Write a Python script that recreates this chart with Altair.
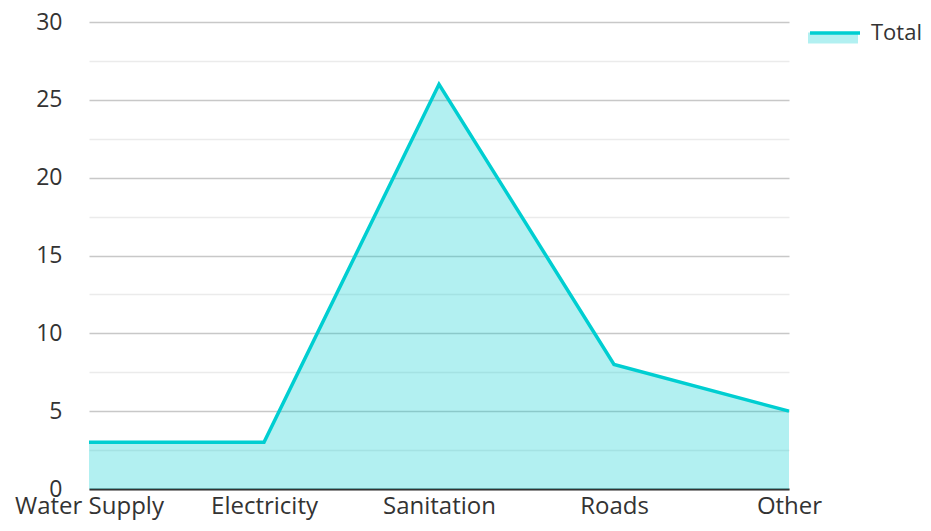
import altair as alt
import pandas as pd

categories = ["Water Supply", "Electricity", "Sanitation", "Roads", "Other"]
values = [3, 3, 26, 8, 5]
series_name = "Total"
y_ticks = [0, 2.5, 5, 7.5, 10, 12.5, 15, 17.5, 20, 22.5, 25, 27.5, 30]

LINE = "#00CED1"
FILL = "#00CED1"

df = pd.DataFrame({"category": categories, "value": values,
                   "series": [series_name] * len(categories),
                   "series_line": [series_name] * len(categories)})

x_enc = alt.X("category:N", sort=categories, title=None,
              scale=alt.Scale(type="point", padding=0),
              axis=alt.Axis(labelAngle=0, labelFontSize=24, labelColor="#333333",
                            labelPadding=5, ticks=False, domainColor="#333333",
                            domainWidth=2, grid=False, labelFont="Open Sans"))
y_enc = alt.Y("value:Q", title=None,
              scale=alt.Scale(domain=[0, 30], nice=False),
              axis=alt.Axis(values=y_ticks, labelFontSize=23, labelColor="#333333",
                            labelFont="Open Sans", labelPadding=27, ticks=False,
                            domain=False,
                            labelExpr="datum.value % 5 === 0 ? datum.label : ''",
                            gridColor={"condition": {"test": "datum.value % 5 === 0", "value": "#c8c8c8"},
                                       "value": "#ebebeb"},
                            gridWidth=1.5))

area = alt.Chart(df).mark_area(opacity=0.3).encode(
    x=x_enc, y=y_enc,
    fill=alt.Fill("series:N", scale=alt.Scale(range=[FILL]),
                  legend=alt.Legend(title=None, orient="none", legendX=719, legendY=-16,
                                    symbolType="M-1,0.06H1V0.5H-1Z", symbolSize=2500,
                                    symbolStrokeWidth=0, labelFontSize=22, labelOpacity=0,
                                    labelFont="Open Sans", labelOffset=9, padding=0)),
)

line = alt.Chart(df).mark_line(strokeWidth=3.5).encode(
    x=x_enc, y=y_enc,
    stroke=alt.Stroke("series_line:N", scale=alt.Scale(range=[LINE]),
                      legend=alt.Legend(title=None, orient="none", legendX=719, legendY=-16,
                                        symbolType="M-1,0H1", symbolSize=2500,
                                        symbolStrokeWidth=3.5, labelFontSize=22,
                                        labelColor="#333333", labelFont="Open Sans",
                                        labelOffset=9, padding=0, labelLimit=200)),
)

chart = alt.layer(area, line).properties(
    width=700, height=467,
    autosize=alt.AutoSizeParams(type="none"),
    padding={"left": 81, "top": 14, "right": 134, "bottom": 34},
).configure(font="Open Sans").configure_view(strokeWidth=0)

chart.save("out.html", embed_options={"renderer": "svg", "actions": False})
